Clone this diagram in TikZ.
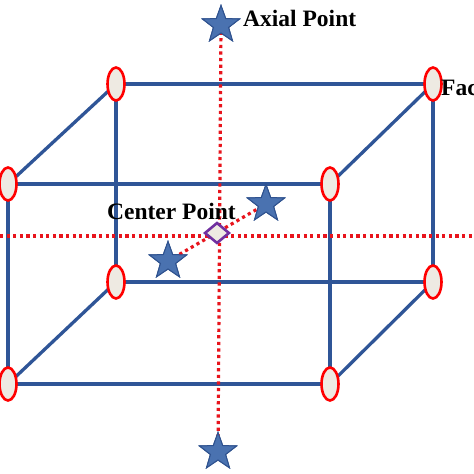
\documentclass[tikz,border=0pt]{standalone}
\usepackage{fontspec}
\setmainfont{Liberation Serif}
\usetikzlibrary{shapes.geometric}
\definecolor{edgeblue}{HTML}{2F5597}
\definecolor{starfill}{HTML}{4A72B0}
\definecolor{starline}{HTML}{2F528F}
\definecolor{corner}{HTML}{EEEAE2}
\definecolor{dotred}{HTML}{E8141C}
\definecolor{purp}{HTML}{7030A0}
\tikzset{
  edge/.style={draw=edgeblue, line width=3.3pt},
  axis/.style={draw=dotred, line width=3.2pt, dash pattern=on 3.2pt off 3.4pt},
  vtx/.style={ellipse, draw=red, fill=corner, line width=2.6pt, minimum width=17pt, minimum height=33pt, inner sep=0pt},
  starpt/.style={star, star points=5, star point ratio=2.45, draw=starline, fill=starfill, line width=1pt, minimum size=39pt, inner sep=0pt},
  ctr/.style={diamond, aspect=1.2, draw=purp, fill=corner, line width=2.6pt, minimum width=25pt, minimum height=21pt, inner sep=0pt},
  lbl/.style={font=\fontsize{23.5}{23.5}\selectfont\bfseries, inner sep=0pt}
}
\begin{document}
\begin{tikzpicture}[x=1pt,y=-1pt]
\useasboundingbox (0,0) rectangle (474,474);
\clip (0,0) rectangle (474,474);
% corners
\coordinate (b1) at (116,84);
\coordinate (b2) at (433,84);
\coordinate (b3) at (433,282);
\coordinate (b4) at (116,282);
\coordinate (f1) at (8,184);
\coordinate (f2) at (330,184);
\coordinate (f3) at (330,384);
\coordinate (f4) at (8,384);
% edges
\draw[edge] (b1) -- (b2) -- (b3) -- (b4) -- cycle;
\draw[edge] (f1) -- (f2) -- (f3) -- (f4) -- cycle;
\draw[edge] (f1) -- (b1);
\draw[edge] (f2) -- (b2);
\draw[edge] (f3) -- (b3);
\draw[edge] (f4) -- (b4);
% axes
\coordinate (hl) at (0,236);
\coordinate (hr) at (474,236);
\node[starpt] (st) at (221,25) {};
\node[starpt] (sb) at (218,452) {};
\node[starpt] (sl) at (168,261) {};
\node[starpt] (sr) at (266,204) {};
\draw[axis] (hl) -- (hr);
\draw[axis] (st.center) -- (sb.center);
\draw[axis] (sl.center) -- (sr.center);
% redraw stars on top
\node[starpt] at (st) {};
\node[starpt] at (sb) {};
\node[starpt] at (sl) {};
\node[starpt] at (sr) {};
% center
\node[ctr] (c) at (217,233) {};
% vertices
\node[vtx] (vb1) at (b1) {};
\node[vtx] (vb2) at (b2) {};
\node[vtx] (vb3) at (b3) {};
\node[vtx] (vb4) at (b4) {};
\node[vtx] (vf1) at (f1) {};
\node[vtx] (vf2) at (f2) {};
\node[vtx] (vf3) at (f3) {};
\node[vtx] (vf4) at (f4) {};
% labels
\node[lbl, anchor=west] (la) at (243,18) {Axial Point};
\node[lbl, anchor=west] (lf) at (441,87) {Face Point};
\node[lbl, anchor=west] (lc) at (107,211) {Center Point};
\end{tikzpicture}
\end{document}
